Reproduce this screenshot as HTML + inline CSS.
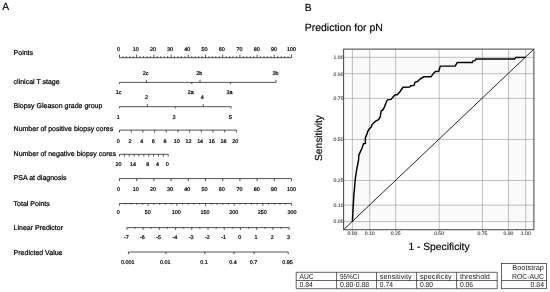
<!DOCTYPE html><html><head><meta charset="utf-8"><title>Nomogram and ROC</title>
<style>html,body{margin:0;padding:0;background:#fff}svg{display:block}text{font-family:"Liberation Sans",sans-serif;fill:#000;stroke:#000;stroke-width:0.22px;text-rendering:geometricPrecision}.r{font-size:7px}.t{font-size:5.4px;text-anchor:middle}.g{font-size:5.1px;fill:#444;stroke:#444;stroke-width:0.12px}.tb{font-size:7.3px;fill:#1a1a1a;stroke:none}</style></head><body>
<svg width="550" height="292" viewBox="0 0 550 292">
<rect width="550" height="292" fill="#fff"/>
<text x="2.2" y="9.8" style="font-size:10.3px;stroke-width:0.15px">A</text>
<text x="304.7" y="10.5" style="font-size:10.3px;stroke-width:0.15px">B</text>
<text x="304.7" y="30.7" style="font-size:10.5px;stroke-width:0.15px">Prediction for pN</text>
<text class="r" x="13.6" y="55.3">Points</text>
<text class="r" x="13.6" y="84.3">clinical T stage</text>
<text class="r" x="13.6" y="107.6">Biopsy Gleason grade group</text>
<text class="r" x="13.6" y="130.9">Number of positive biopsy cores</text>
<text class="r" x="13.6" y="156">Number of negative biopsy cores</text>
<text class="r" x="13.6" y="180.1">PSA at diagnosis</text>
<text class="r" x="13.6" y="206">Total Points</text>
<text class="r" x="13.6" y="230.4">Linear Predictor</text>
<text class="r" x="13.6" y="254.6">Predicted Value</text>
<line x1="119.5" y1="57.7" x2="291.5" y2="57.7" stroke="#1a1a1a" stroke-width="0.75"/>
<line x1="119.5" y1="57.7" x2="119.5" y2="54.7" stroke="#1a1a1a" stroke-width="0.75"/>
<text class="t" x="118.5" y="51.1">0</text>
<line x1="122.94" y1="57.7" x2="122.94" y2="56.2" stroke="#1a1a1a" stroke-width="0.75"/>
<line x1="126.38" y1="57.7" x2="126.38" y2="56.2" stroke="#1a1a1a" stroke-width="0.75"/>
<line x1="129.82" y1="57.7" x2="129.82" y2="56.2" stroke="#1a1a1a" stroke-width="0.75"/>
<line x1="133.26" y1="57.7" x2="133.26" y2="56.2" stroke="#1a1a1a" stroke-width="0.75"/>
<line x1="136.7" y1="57.7" x2="136.7" y2="54.7" stroke="#1a1a1a" stroke-width="0.75"/>
<text class="t" x="135.7" y="51.1">10</text>
<line x1="140.14" y1="57.7" x2="140.14" y2="56.2" stroke="#1a1a1a" stroke-width="0.75"/>
<line x1="143.58" y1="57.7" x2="143.58" y2="56.2" stroke="#1a1a1a" stroke-width="0.75"/>
<line x1="147.02" y1="57.7" x2="147.02" y2="56.2" stroke="#1a1a1a" stroke-width="0.75"/>
<line x1="150.46" y1="57.7" x2="150.46" y2="56.2" stroke="#1a1a1a" stroke-width="0.75"/>
<line x1="153.9" y1="57.7" x2="153.9" y2="54.7" stroke="#1a1a1a" stroke-width="0.75"/>
<text class="t" x="152.9" y="51.1">20</text>
<line x1="157.34" y1="57.7" x2="157.34" y2="56.2" stroke="#1a1a1a" stroke-width="0.75"/>
<line x1="160.78" y1="57.7" x2="160.78" y2="56.2" stroke="#1a1a1a" stroke-width="0.75"/>
<line x1="164.22" y1="57.7" x2="164.22" y2="56.2" stroke="#1a1a1a" stroke-width="0.75"/>
<line x1="167.66" y1="57.7" x2="167.66" y2="56.2" stroke="#1a1a1a" stroke-width="0.75"/>
<line x1="171.1" y1="57.7" x2="171.1" y2="54.7" stroke="#1a1a1a" stroke-width="0.75"/>
<text class="t" x="170.1" y="51.1">30</text>
<line x1="174.54" y1="57.7" x2="174.54" y2="56.2" stroke="#1a1a1a" stroke-width="0.75"/>
<line x1="177.98" y1="57.7" x2="177.98" y2="56.2" stroke="#1a1a1a" stroke-width="0.75"/>
<line x1="181.42" y1="57.7" x2="181.42" y2="56.2" stroke="#1a1a1a" stroke-width="0.75"/>
<line x1="184.86" y1="57.7" x2="184.86" y2="56.2" stroke="#1a1a1a" stroke-width="0.75"/>
<line x1="188.3" y1="57.7" x2="188.3" y2="54.7" stroke="#1a1a1a" stroke-width="0.75"/>
<text class="t" x="187.3" y="51.1">40</text>
<line x1="191.74" y1="57.7" x2="191.74" y2="56.2" stroke="#1a1a1a" stroke-width="0.75"/>
<line x1="195.18" y1="57.7" x2="195.18" y2="56.2" stroke="#1a1a1a" stroke-width="0.75"/>
<line x1="198.62" y1="57.7" x2="198.62" y2="56.2" stroke="#1a1a1a" stroke-width="0.75"/>
<line x1="202.06" y1="57.7" x2="202.06" y2="56.2" stroke="#1a1a1a" stroke-width="0.75"/>
<line x1="205.5" y1="57.7" x2="205.5" y2="54.7" stroke="#1a1a1a" stroke-width="0.75"/>
<text class="t" x="204.5" y="51.1">50</text>
<line x1="208.94" y1="57.7" x2="208.94" y2="56.2" stroke="#1a1a1a" stroke-width="0.75"/>
<line x1="212.38" y1="57.7" x2="212.38" y2="56.2" stroke="#1a1a1a" stroke-width="0.75"/>
<line x1="215.82" y1="57.7" x2="215.82" y2="56.2" stroke="#1a1a1a" stroke-width="0.75"/>
<line x1="219.26" y1="57.7" x2="219.26" y2="56.2" stroke="#1a1a1a" stroke-width="0.75"/>
<line x1="222.7" y1="57.7" x2="222.7" y2="54.7" stroke="#1a1a1a" stroke-width="0.75"/>
<text class="t" x="221.7" y="51.1">60</text>
<line x1="226.14" y1="57.7" x2="226.14" y2="56.2" stroke="#1a1a1a" stroke-width="0.75"/>
<line x1="229.58" y1="57.7" x2="229.58" y2="56.2" stroke="#1a1a1a" stroke-width="0.75"/>
<line x1="233.02" y1="57.7" x2="233.02" y2="56.2" stroke="#1a1a1a" stroke-width="0.75"/>
<line x1="236.46" y1="57.7" x2="236.46" y2="56.2" stroke="#1a1a1a" stroke-width="0.75"/>
<line x1="239.9" y1="57.7" x2="239.9" y2="54.7" stroke="#1a1a1a" stroke-width="0.75"/>
<text class="t" x="239.6" y="51.1">70</text>
<line x1="243.34" y1="57.7" x2="243.34" y2="56.2" stroke="#1a1a1a" stroke-width="0.75"/>
<line x1="246.78" y1="57.7" x2="246.78" y2="56.2" stroke="#1a1a1a" stroke-width="0.75"/>
<line x1="250.22" y1="57.7" x2="250.22" y2="56.2" stroke="#1a1a1a" stroke-width="0.75"/>
<line x1="253.66" y1="57.7" x2="253.66" y2="56.2" stroke="#1a1a1a" stroke-width="0.75"/>
<line x1="257.1" y1="57.7" x2="257.1" y2="54.7" stroke="#1a1a1a" stroke-width="0.75"/>
<text class="t" x="256.8" y="51.1">80</text>
<line x1="260.54" y1="57.7" x2="260.54" y2="56.2" stroke="#1a1a1a" stroke-width="0.75"/>
<line x1="263.98" y1="57.7" x2="263.98" y2="56.2" stroke="#1a1a1a" stroke-width="0.75"/>
<line x1="267.42" y1="57.7" x2="267.42" y2="56.2" stroke="#1a1a1a" stroke-width="0.75"/>
<line x1="270.86" y1="57.7" x2="270.86" y2="56.2" stroke="#1a1a1a" stroke-width="0.75"/>
<line x1="274.3" y1="57.7" x2="274.3" y2="54.7" stroke="#1a1a1a" stroke-width="0.75"/>
<text class="t" x="274" y="51.1">90</text>
<line x1="277.74" y1="57.7" x2="277.74" y2="56.2" stroke="#1a1a1a" stroke-width="0.75"/>
<line x1="281.18" y1="57.7" x2="281.18" y2="56.2" stroke="#1a1a1a" stroke-width="0.75"/>
<line x1="284.62" y1="57.7" x2="284.62" y2="56.2" stroke="#1a1a1a" stroke-width="0.75"/>
<line x1="288.06" y1="57.7" x2="288.06" y2="56.2" stroke="#1a1a1a" stroke-width="0.75"/>
<line x1="291.5" y1="57.7" x2="291.5" y2="54.7" stroke="#1a1a1a" stroke-width="0.75"/>
<text class="t" x="291.4" y="51.1">100</text>
<line x1="119.5" y1="82.4" x2="276.02" y2="82.4" stroke="#1a1a1a" stroke-width="0.75"/>
<line x1="119.5" y1="82.4" x2="119.5" y2="84" stroke="#1a1a1a" stroke-width="0.75"/>
<text class="t" x="118.5" y="94.2">1c</text>
<line x1="146.33" y1="82.4" x2="146.33" y2="79.8" stroke="#1a1a1a" stroke-width="0.75"/>
<text class="t" x="145.63" y="75.2">2c</text>
<line x1="191.74" y1="82.4" x2="191.74" y2="84" stroke="#1a1a1a" stroke-width="0.75"/>
<text class="t" x="190.74" y="94.2">2a</text>
<line x1="200" y1="82.4" x2="200" y2="79.8" stroke="#1a1a1a" stroke-width="0.75"/>
<text class="t" x="199.3" y="75.2">2b</text>
<line x1="230.44" y1="82.4" x2="230.44" y2="84" stroke="#1a1a1a" stroke-width="0.75"/>
<text class="t" x="229.44" y="94.2">3a</text>
<line x1="276.02" y1="82.4" x2="276.02" y2="79.8" stroke="#1a1a1a" stroke-width="0.75"/>
<text class="t" x="275.42" y="75.2">3b</text>
<line x1="119.5" y1="106.7" x2="231.1" y2="106.7" stroke="#1a1a1a" stroke-width="0.75"/>
<line x1="119.5" y1="106.7" x2="119.5" y2="108.3" stroke="#1a1a1a" stroke-width="0.75"/>
<text class="t" x="118.3" y="118.8">1</text>
<line x1="147.4" y1="106.7" x2="147.4" y2="104.1" stroke="#1a1a1a" stroke-width="0.75"/>
<text class="t" x="146.4" y="98.8">2</text>
<line x1="175.3" y1="106.7" x2="175.3" y2="108.3" stroke="#1a1a1a" stroke-width="0.75"/>
<text class="t" x="174.1" y="118.8">3</text>
<line x1="203.2" y1="106.7" x2="203.2" y2="104.1" stroke="#1a1a1a" stroke-width="0.75"/>
<text class="t" x="202.2" y="98.8">4</text>
<line x1="231.1" y1="106.7" x2="231.1" y2="108.3" stroke="#1a1a1a" stroke-width="0.75"/>
<text class="t" x="230.4" y="118.8">5</text>
<line x1="119.5" y1="130.1" x2="236.4" y2="130.1" stroke="#1a1a1a" stroke-width="0.75"/>
<line x1="119.5" y1="130.1" x2="119.5" y2="132.5" stroke="#1a1a1a" stroke-width="0.75"/>
<text class="t" x="118.3" y="142.5">0</text>
<line x1="131.19" y1="130.1" x2="131.19" y2="132.5" stroke="#1a1a1a" stroke-width="0.75"/>
<text class="t" x="129.99" y="142.5">2</text>
<line x1="142.88" y1="130.1" x2="142.88" y2="132.5" stroke="#1a1a1a" stroke-width="0.75"/>
<text class="t" x="141.68" y="142.5">4</text>
<line x1="154.57" y1="130.1" x2="154.57" y2="132.5" stroke="#1a1a1a" stroke-width="0.75"/>
<text class="t" x="153.37" y="142.5">6</text>
<line x1="166.26" y1="130.1" x2="166.26" y2="132.5" stroke="#1a1a1a" stroke-width="0.75"/>
<text class="t" x="165.06" y="142.5">8</text>
<line x1="177.95" y1="130.1" x2="177.95" y2="132.5" stroke="#1a1a1a" stroke-width="0.75"/>
<text class="t" x="176.75" y="142.5">10</text>
<line x1="189.64" y1="130.1" x2="189.64" y2="132.5" stroke="#1a1a1a" stroke-width="0.75"/>
<text class="t" x="188.44" y="142.5">12</text>
<line x1="201.33" y1="130.1" x2="201.33" y2="132.5" stroke="#1a1a1a" stroke-width="0.75"/>
<text class="t" x="200.13" y="142.5">14</text>
<line x1="213.02" y1="130.1" x2="213.02" y2="132.5" stroke="#1a1a1a" stroke-width="0.75"/>
<text class="t" x="211.82" y="142.5">16</text>
<line x1="224.71" y1="130.1" x2="224.71" y2="132.5" stroke="#1a1a1a" stroke-width="0.75"/>
<text class="t" x="223.51" y="142.5">18</text>
<line x1="236.4" y1="130.1" x2="236.4" y2="132.5" stroke="#1a1a1a" stroke-width="0.75"/>
<text class="t" x="235.2" y="142.5">20</text>
<line x1="119.5" y1="154.3" x2="168.2" y2="154.3" stroke="#1a1a1a" stroke-width="0.75"/>
<line x1="119.5" y1="154.3" x2="119.5" y2="156.5" stroke="#1a1a1a" stroke-width="0.75"/>
<text class="t" x="118.5" y="166.2">20</text>
<line x1="124.37" y1="154.3" x2="124.37" y2="156.5" stroke="#1a1a1a" stroke-width="0.75"/>
<line x1="129.24" y1="154.3" x2="129.24" y2="156.5" stroke="#1a1a1a" stroke-width="0.75"/>
<line x1="134.11" y1="154.3" x2="134.11" y2="156.5" stroke="#1a1a1a" stroke-width="0.75"/>
<text class="t" x="133.11" y="166.2">14</text>
<line x1="138.98" y1="154.3" x2="138.98" y2="156.5" stroke="#1a1a1a" stroke-width="0.75"/>
<line x1="143.85" y1="154.3" x2="143.85" y2="156.5" stroke="#1a1a1a" stroke-width="0.75"/>
<line x1="148.72" y1="154.3" x2="148.72" y2="156.5" stroke="#1a1a1a" stroke-width="0.75"/>
<text class="t" x="147.72" y="166.2">8</text>
<line x1="153.59" y1="154.3" x2="153.59" y2="156.5" stroke="#1a1a1a" stroke-width="0.75"/>
<line x1="158.46" y1="154.3" x2="158.46" y2="156.5" stroke="#1a1a1a" stroke-width="0.75"/>
<text class="t" x="157.46" y="166.2">4</text>
<line x1="163.33" y1="154.3" x2="163.33" y2="156.5" stroke="#1a1a1a" stroke-width="0.75"/>
<line x1="168.2" y1="154.3" x2="168.2" y2="156.5" stroke="#1a1a1a" stroke-width="0.75"/>
<text class="t" x="167.2" y="166.2">0</text>
<line x1="119.5" y1="178.6" x2="291.5" y2="178.6" stroke="#1a1a1a" stroke-width="0.75"/>
<line x1="119.5" y1="178.6" x2="119.5" y2="181" stroke="#1a1a1a" stroke-width="0.75"/>
<text class="t" x="118.5" y="190.5">0</text>
<line x1="136.7" y1="178.6" x2="136.7" y2="181" stroke="#1a1a1a" stroke-width="0.75"/>
<text class="t" x="135.7" y="190.5">10</text>
<line x1="153.9" y1="178.6" x2="153.9" y2="181" stroke="#1a1a1a" stroke-width="0.75"/>
<text class="t" x="152.9" y="190.5">20</text>
<line x1="171.1" y1="178.6" x2="171.1" y2="181" stroke="#1a1a1a" stroke-width="0.75"/>
<text class="t" x="170.1" y="190.5">30</text>
<line x1="188.3" y1="178.6" x2="188.3" y2="181" stroke="#1a1a1a" stroke-width="0.75"/>
<text class="t" x="187.3" y="190.5">40</text>
<line x1="205.5" y1="178.6" x2="205.5" y2="181" stroke="#1a1a1a" stroke-width="0.75"/>
<text class="t" x="204.5" y="190.5">50</text>
<line x1="222.7" y1="178.6" x2="222.7" y2="181" stroke="#1a1a1a" stroke-width="0.75"/>
<text class="t" x="221.7" y="190.5">60</text>
<line x1="239.9" y1="178.6" x2="239.9" y2="181" stroke="#1a1a1a" stroke-width="0.75"/>
<text class="t" x="239.6" y="190.5">70</text>
<line x1="257.1" y1="178.6" x2="257.1" y2="181" stroke="#1a1a1a" stroke-width="0.75"/>
<text class="t" x="256.8" y="190.5">80</text>
<line x1="274.3" y1="178.6" x2="274.3" y2="181" stroke="#1a1a1a" stroke-width="0.75"/>
<text class="t" x="274" y="190.5">90</text>
<line x1="291.5" y1="178.6" x2="291.5" y2="181" stroke="#1a1a1a" stroke-width="0.75"/>
<text class="t" x="291.5" y="190.5">100</text>
<line x1="119.5" y1="203.5" x2="291.5" y2="203.5" stroke="#1a1a1a" stroke-width="0.75"/>
<line x1="119.5" y1="203.5" x2="119.5" y2="205.7" stroke="#1a1a1a" stroke-width="0.75"/>
<text class="t" x="118.3" y="214.3">0</text>
<line x1="125.23" y1="203.5" x2="125.23" y2="204.7" stroke="#1a1a1a" stroke-width="0.75"/>
<line x1="130.97" y1="203.5" x2="130.97" y2="204.7" stroke="#1a1a1a" stroke-width="0.75"/>
<line x1="136.7" y1="203.5" x2="136.7" y2="204.7" stroke="#1a1a1a" stroke-width="0.75"/>
<line x1="142.43" y1="203.5" x2="142.43" y2="204.7" stroke="#1a1a1a" stroke-width="0.75"/>
<line x1="148.17" y1="203.5" x2="148.17" y2="205.7" stroke="#1a1a1a" stroke-width="0.75"/>
<text class="t" x="147.67" y="214.3">50</text>
<line x1="153.9" y1="203.5" x2="153.9" y2="204.7" stroke="#1a1a1a" stroke-width="0.75"/>
<line x1="159.63" y1="203.5" x2="159.63" y2="204.7" stroke="#1a1a1a" stroke-width="0.75"/>
<line x1="165.37" y1="203.5" x2="165.37" y2="204.7" stroke="#1a1a1a" stroke-width="0.75"/>
<line x1="171.1" y1="203.5" x2="171.1" y2="204.7" stroke="#1a1a1a" stroke-width="0.75"/>
<line x1="176.83" y1="203.5" x2="176.83" y2="205.7" stroke="#1a1a1a" stroke-width="0.75"/>
<text class="t" x="176.33" y="214.3">100</text>
<line x1="182.57" y1="203.5" x2="182.57" y2="204.7" stroke="#1a1a1a" stroke-width="0.75"/>
<line x1="188.3" y1="203.5" x2="188.3" y2="204.7" stroke="#1a1a1a" stroke-width="0.75"/>
<line x1="194.03" y1="203.5" x2="194.03" y2="204.7" stroke="#1a1a1a" stroke-width="0.75"/>
<line x1="199.77" y1="203.5" x2="199.77" y2="204.7" stroke="#1a1a1a" stroke-width="0.75"/>
<line x1="205.5" y1="203.5" x2="205.5" y2="205.7" stroke="#1a1a1a" stroke-width="0.75"/>
<text class="t" x="205" y="214.3">150</text>
<line x1="211.23" y1="203.5" x2="211.23" y2="204.7" stroke="#1a1a1a" stroke-width="0.75"/>
<line x1="216.97" y1="203.5" x2="216.97" y2="204.7" stroke="#1a1a1a" stroke-width="0.75"/>
<line x1="222.7" y1="203.5" x2="222.7" y2="204.7" stroke="#1a1a1a" stroke-width="0.75"/>
<line x1="228.43" y1="203.5" x2="228.43" y2="204.7" stroke="#1a1a1a" stroke-width="0.75"/>
<line x1="234.17" y1="203.5" x2="234.17" y2="205.7" stroke="#1a1a1a" stroke-width="0.75"/>
<text class="t" x="233.67" y="214.3">200</text>
<line x1="239.9" y1="203.5" x2="239.9" y2="204.7" stroke="#1a1a1a" stroke-width="0.75"/>
<line x1="245.63" y1="203.5" x2="245.63" y2="204.7" stroke="#1a1a1a" stroke-width="0.75"/>
<line x1="251.37" y1="203.5" x2="251.37" y2="204.7" stroke="#1a1a1a" stroke-width="0.75"/>
<line x1="257.1" y1="203.5" x2="257.1" y2="204.7" stroke="#1a1a1a" stroke-width="0.75"/>
<line x1="262.83" y1="203.5" x2="262.83" y2="205.7" stroke="#1a1a1a" stroke-width="0.75"/>
<text class="t" x="262.33" y="214.3">250</text>
<line x1="268.57" y1="203.5" x2="268.57" y2="204.7" stroke="#1a1a1a" stroke-width="0.75"/>
<line x1="274.3" y1="203.5" x2="274.3" y2="204.7" stroke="#1a1a1a" stroke-width="0.75"/>
<line x1="280.03" y1="203.5" x2="280.03" y2="204.7" stroke="#1a1a1a" stroke-width="0.75"/>
<line x1="285.77" y1="203.5" x2="285.77" y2="204.7" stroke="#1a1a1a" stroke-width="0.75"/>
<line x1="291.5" y1="203.5" x2="291.5" y2="205.7" stroke="#1a1a1a" stroke-width="0.75"/>
<text class="t" x="291.9" y="214.3">300</text>
<line x1="126.9" y1="227.6" x2="289.1" y2="227.6" stroke="#1a1a1a" stroke-width="0.75"/>
<line x1="126.9" y1="227.6" x2="126.9" y2="229.8" stroke="#1a1a1a" stroke-width="0.75"/>
<text class="t" x="126.25" y="239.2">-7</text>
<line x1="135.01" y1="227.6" x2="135.01" y2="228.8" stroke="#1a1a1a" stroke-width="0.75"/>
<line x1="143.12" y1="227.6" x2="143.12" y2="229.8" stroke="#1a1a1a" stroke-width="0.75"/>
<text class="t" x="142.47" y="239.2">-6</text>
<line x1="151.23" y1="227.6" x2="151.23" y2="228.8" stroke="#1a1a1a" stroke-width="0.75"/>
<line x1="159.34" y1="227.6" x2="159.34" y2="229.8" stroke="#1a1a1a" stroke-width="0.75"/>
<text class="t" x="158.69" y="239.2">-5</text>
<line x1="167.45" y1="227.6" x2="167.45" y2="228.8" stroke="#1a1a1a" stroke-width="0.75"/>
<line x1="175.56" y1="227.6" x2="175.56" y2="229.8" stroke="#1a1a1a" stroke-width="0.75"/>
<text class="t" x="174.91" y="239.2">-4</text>
<line x1="183.67" y1="227.6" x2="183.67" y2="228.8" stroke="#1a1a1a" stroke-width="0.75"/>
<line x1="191.78" y1="227.6" x2="191.78" y2="229.8" stroke="#1a1a1a" stroke-width="0.75"/>
<text class="t" x="191.13" y="239.2">-3</text>
<line x1="199.89" y1="227.6" x2="199.89" y2="228.8" stroke="#1a1a1a" stroke-width="0.75"/>
<line x1="208" y1="227.6" x2="208" y2="229.8" stroke="#1a1a1a" stroke-width="0.75"/>
<text class="t" x="207.35" y="239.2">-2</text>
<line x1="216.11" y1="227.6" x2="216.11" y2="228.8" stroke="#1a1a1a" stroke-width="0.75"/>
<line x1="224.22" y1="227.6" x2="224.22" y2="229.8" stroke="#1a1a1a" stroke-width="0.75"/>
<text class="t" x="223.57" y="239.2">-1</text>
<line x1="232.33" y1="227.6" x2="232.33" y2="228.8" stroke="#1a1a1a" stroke-width="0.75"/>
<line x1="240.44" y1="227.6" x2="240.44" y2="229.8" stroke="#1a1a1a" stroke-width="0.75"/>
<text class="t" x="239.79" y="239.2">0</text>
<line x1="248.55" y1="227.6" x2="248.55" y2="228.8" stroke="#1a1a1a" stroke-width="0.75"/>
<line x1="256.66" y1="227.6" x2="256.66" y2="229.8" stroke="#1a1a1a" stroke-width="0.75"/>
<text class="t" x="256.01" y="239.2">1</text>
<line x1="264.77" y1="227.6" x2="264.77" y2="228.8" stroke="#1a1a1a" stroke-width="0.75"/>
<line x1="272.88" y1="227.6" x2="272.88" y2="229.8" stroke="#1a1a1a" stroke-width="0.75"/>
<text class="t" x="272.23" y="239.2">2</text>
<line x1="280.99" y1="227.6" x2="280.99" y2="228.8" stroke="#1a1a1a" stroke-width="0.75"/>
<line x1="289.1" y1="227.6" x2="289.1" y2="229.8" stroke="#1a1a1a" stroke-width="0.75"/>
<text class="t" x="288.45" y="239.2">3</text>
<line x1="128.41" y1="252" x2="288.2" y2="252" stroke="#1a1a1a" stroke-width="0.75"/>
<line x1="128.41" y1="252" x2="128.41" y2="254.2" stroke="#1a1a1a" stroke-width="0.75"/>
<text class="t" x="127.66" y="264.1">0.001</text>
<line x1="165.91" y1="252" x2="165.91" y2="254.2" stroke="#1a1a1a" stroke-width="0.75"/>
<text class="t" x="165.16" y="264.1">0.01</text>
<line x1="204.8" y1="252" x2="204.8" y2="254.2" stroke="#1a1a1a" stroke-width="0.75"/>
<text class="t" x="204.05" y="264.1">0.1</text>
<line x1="233.86" y1="252" x2="233.86" y2="254.2" stroke="#1a1a1a" stroke-width="0.75"/>
<text class="t" x="233.11" y="264.1">0.4</text>
<line x1="254.18" y1="252" x2="254.18" y2="254.2" stroke="#1a1a1a" stroke-width="0.75"/>
<text class="t" x="253.43" y="264.1">0.7</text>
<line x1="288.2" y1="252" x2="288.2" y2="254.2" stroke="#1a1a1a" stroke-width="0.75"/>
<text class="t" x="287.45" y="264.1">0.95</text>
<rect x="352.4" y="49.1" width="17.34" height="180.6" fill="#fafafa"/>
<rect x="508.46" y="49.1" width="17.34" height="180.6" fill="#fafafa"/>
<rect x="343.6" y="57.3" width="190.3" height="16.43" fill="#fafafa"/>
<rect x="343.6" y="205.17" width="190.3" height="16.43" fill="#fafafa"/>
<line x1="352.4" y1="49.1" x2="352.4" y2="229.7" stroke="#949494" stroke-width="0.6"/>
<line x1="343.6" y1="221.6" x2="533.9" y2="221.6" stroke="#949494" stroke-width="0.6"/>
<line x1="369.74" y1="49.1" x2="369.74" y2="229.7" stroke="#949494" stroke-width="0.6"/>
<line x1="343.6" y1="205.17" x2="533.9" y2="205.17" stroke="#949494" stroke-width="0.6"/>
<line x1="395.75" y1="49.1" x2="395.75" y2="229.7" stroke="#949494" stroke-width="0.6"/>
<line x1="343.6" y1="180.52" x2="533.9" y2="180.52" stroke="#949494" stroke-width="0.6"/>
<line x1="439.1" y1="49.1" x2="439.1" y2="229.7" stroke="#949494" stroke-width="0.6"/>
<line x1="343.6" y1="139.45" x2="533.9" y2="139.45" stroke="#949494" stroke-width="0.6"/>
<line x1="482.45" y1="49.1" x2="482.45" y2="229.7" stroke="#949494" stroke-width="0.6"/>
<line x1="343.6" y1="98.37" x2="533.9" y2="98.37" stroke="#949494" stroke-width="0.6"/>
<line x1="508.46" y1="49.1" x2="508.46" y2="229.7" stroke="#949494" stroke-width="0.6"/>
<line x1="343.6" y1="73.73" x2="533.9" y2="73.73" stroke="#949494" stroke-width="0.6"/>
<line x1="525.8" y1="49.1" x2="525.8" y2="229.7" stroke="#949494" stroke-width="0.6"/>
<line x1="343.6" y1="57.3" x2="533.9" y2="57.3" stroke="#949494" stroke-width="0.6"/>
<line x1="343.6" y1="229.7" x2="533.9" y2="49.1" stroke="#1a1a1a" stroke-width="0.95"/>
<polyline fill="none" stroke="#000" stroke-width="1.45" stroke-linejoin="miter" points="352.4,221.6 353.3,205 353.9,194.4 354.4,190 355.1,180.3 356.6,170 358.6,160 358.8,155.2 360.3,151.9 361.9,148.6 363.5,143.7 365.4,143.4 365.4,137.7 366.8,134.4 367.9,131.1 369.2,129 371.4,126.8 372,124.6 375.3,121.4 378.5,119.7 380.2,117 381.1,111 382.9,109.9 384.6,106.6 386.2,102.2 387.5,99.9 391,99.4 394.8,95 397.5,94.5 400.3,91.2 403,87.3 409.6,87.1 410.7,85.7 414,85.4 415,82.4 417.8,81.3 420,79.1 423.8,76.8 431,76.8 433.2,73.7 435.4,71.5 438.7,71.2 440.3,66.1 455.1,66.1 457.3,62.5 472.1,62.5 473.2,60.9 474.8,60.6 475.9,59 514.8,59 515.6,57.5 525.8,57.4"/>
<rect x="343.6" y="49.1" width="190.3" height="180.6" fill="none" stroke="#4a4a4a" stroke-width="1.05"/>
<line x1="352.4" y1="229.7" x2="352.4" y2="231.2" stroke="#4d4d4d" stroke-width="0.5"/>
<text class="g" x="352.4" y="235.3" text-anchor="middle">0.00</text>
<text class="g" x="343.5" y="223.4" text-anchor="end">0.00</text>
<line x1="369.74" y1="229.7" x2="369.74" y2="231.2" stroke="#4d4d4d" stroke-width="0.5"/>
<text class="g" x="369.74" y="235.3" text-anchor="middle">0.10</text>
<text class="g" x="343.5" y="206.97" text-anchor="end">0.10</text>
<line x1="395.75" y1="229.7" x2="395.75" y2="231.2" stroke="#4d4d4d" stroke-width="0.5"/>
<text class="g" x="395.75" y="235.3" text-anchor="middle">0.25</text>
<text class="g" x="343.5" y="182.32" text-anchor="end">0.25</text>
<line x1="439.1" y1="229.7" x2="439.1" y2="231.2" stroke="#4d4d4d" stroke-width="0.5"/>
<text class="g" x="439.1" y="235.3" text-anchor="middle">0.50</text>
<text class="g" x="343.5" y="141.25" text-anchor="end">0.50</text>
<line x1="482.45" y1="229.7" x2="482.45" y2="231.2" stroke="#4d4d4d" stroke-width="0.5"/>
<text class="g" x="482.45" y="235.3" text-anchor="middle">0.75</text>
<text class="g" x="343.5" y="100.17" text-anchor="end">0.75</text>
<line x1="508.46" y1="229.7" x2="508.46" y2="231.2" stroke="#4d4d4d" stroke-width="0.5"/>
<text class="g" x="508.46" y="235.3" text-anchor="middle">0.90</text>
<text class="g" x="343.5" y="75.53" text-anchor="end">0.90</text>
<line x1="525.8" y1="229.7" x2="525.8" y2="231.2" stroke="#4d4d4d" stroke-width="0.5"/>
<text class="g" x="525.8" y="235.3" text-anchor="middle">1.00</text>
<text class="g" x="343.5" y="59.1" text-anchor="end">1.00</text>
<text class="" x="439" y="250" text-anchor="middle" style="font-size:10.3px;stroke-width:0.15px">1 - Specificity</text>
<text transform="translate(322.3,138) rotate(-90)" text-anchor="middle" style="font-size:10.2px;stroke-width:0.15px">Sensitivity</text>
<line x1="296.2" y1="272.3" x2="497.2" y2="272.3" stroke="#222" stroke-width="0.7"/>
<line x1="296.2" y1="280.5" x2="497.2" y2="280.5" stroke="#222" stroke-width="0.7"/>
<line x1="296.2" y1="288.7" x2="497.2" y2="288.7" stroke="#222" stroke-width="0.7"/>
<line x1="296.2" y1="272.3" x2="296.2" y2="288.7" stroke="#222" stroke-width="0.7"/>
<line x1="336.6" y1="272.3" x2="336.6" y2="288.7" stroke="#222" stroke-width="0.7"/>
<line x1="376.5" y1="272.3" x2="376.5" y2="288.7" stroke="#222" stroke-width="0.7"/>
<line x1="416.6" y1="272.3" x2="416.6" y2="288.7" stroke="#222" stroke-width="0.7"/>
<line x1="456.6" y1="272.3" x2="456.6" y2="288.7" stroke="#222" stroke-width="0.7"/>
<line x1="497.2" y1="272.3" x2="497.2" y2="288.7" stroke="#222" stroke-width="0.7"/>
<text class="tb" x="299.5" y="278.6" textLength="14.1" lengthAdjust="spacingAndGlyphs">AUC</text>
<text class="tb" x="299.5" y="286.8" textLength="13.3" lengthAdjust="spacingAndGlyphs">0.84</text>
<text class="tb" x="339.9" y="278.6" textLength="19.4" lengthAdjust="spacingAndGlyphs">95%CI</text>
<text class="tb" x="339.9" y="286.8" textLength="29.2" lengthAdjust="spacingAndGlyphs">0.80-0.88</text>
<text class="tb" x="379.8" y="278.6" textLength="31.9" lengthAdjust="spacingAndGlyphs">sensitivity</text>
<text class="tb" x="379.8" y="286.8" textLength="13.1" lengthAdjust="spacingAndGlyphs">0.74</text>
<text class="tb" x="419.9" y="278.6" textLength="31.9" lengthAdjust="spacingAndGlyphs">specificity</text>
<text class="tb" x="419.9" y="286.8" textLength="13.1" lengthAdjust="spacingAndGlyphs">0.80</text>
<text class="tb" x="459.9" y="278.6" textLength="30" lengthAdjust="spacingAndGlyphs">threshold</text>
<text class="tb" x="459.9" y="286.8" textLength="13.2" lengthAdjust="spacingAndGlyphs">0.06</text>
<rect x="501.6" y="263.5" width="45" height="25.2" fill="none" stroke="#222" stroke-width="0.7"/>
<line x1="501.6" y1="280.5" x2="546.6" y2="280.5" stroke="#222" stroke-width="0.7"/>
<text class="tb" x="512.2" y="270" textLength="31.8" lengthAdjust="spacingAndGlyphs">Bootstrap</text>
<text class="tb" x="512" y="278.6" textLength="32" lengthAdjust="spacingAndGlyphs">ROC-AUC</text>
<text class="tb" x="530.6" y="286.7" textLength="13.4" lengthAdjust="spacingAndGlyphs">0.84</text>
</svg></body></html>
